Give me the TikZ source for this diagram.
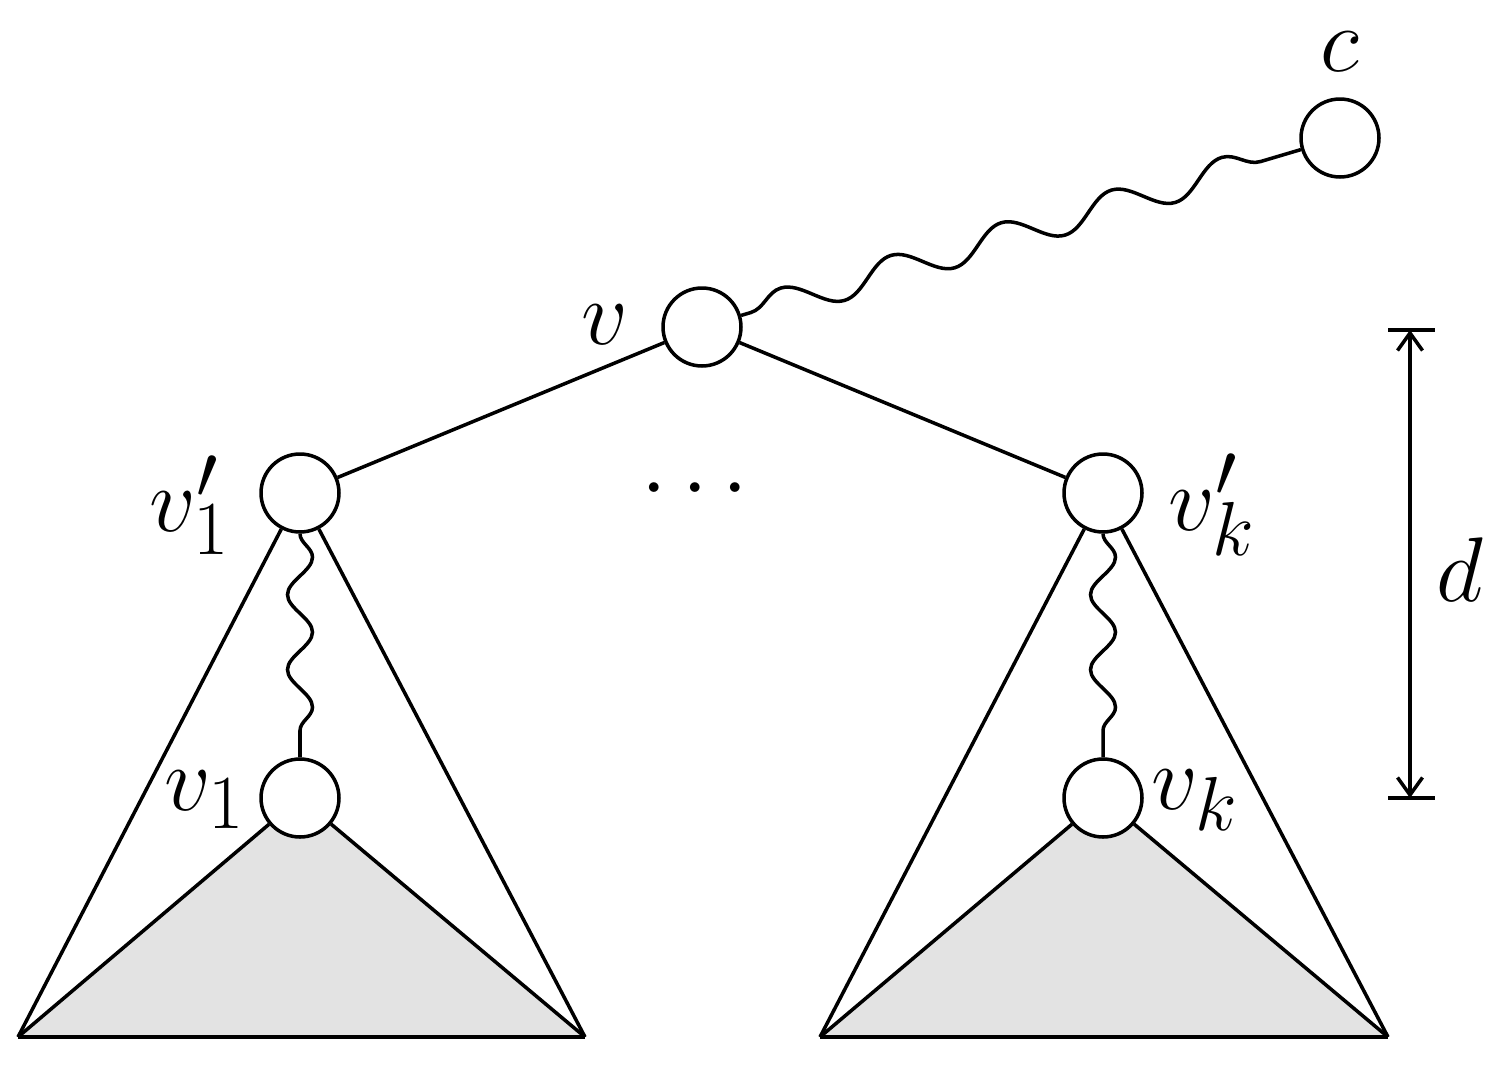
\documentclass[tikz,border=0pt]{standalone}
\usetikzlibrary{decorations.pathmorphing,arrows.meta}
\begin{document}
\begin{tikzpicture}[x=0.02cm,y=-0.02cm,line width=2pt,
  vert/.style={circle,draw,fill=white,minimum size=1.56cm,inner sep=0pt},
  lbl/.style={font=\Huge,scale=2.1},
  wavy/.style={decorate,decoration={snake,segment length=2.3cm,amplitude=0.3cm,pre length=0.2cm,post length=0.1cm}},
  wavyv/.style={decorate,decoration={snake,segment length=1.5cm,amplitude=0.25cm,post length=0.1cm}}]
\useasboundingbox (0,0) rectangle (1501,1065);
\coordinate (l1) at (18,1037); \coordinate (l2) at (585,1037);
\coordinate (r1) at (820,1037); \coordinate (r2) at (1388,1037);
\fill[gray!22] (300,798) -- (l1) -- (l2) -- cycle;
\fill[gray!22] (1103,798) -- (r1) -- (r2) -- cycle;
\node[vert] (c) at (1340,138) {};
\node[vert] (v) at (702,327) {};
\node[vert] (a1) at (300,493) {};
\node[vert] (ak) at (1103,493) {};
\node[vert] (b1) at (300,798) {};
\node[vert] (bk) at (1103,798) {};
\node[lbl] (lc) at (1340,52) {$c$};
\node[lbl] (lv) at (605,325) {$v$};
\node[lbl] (la1) at (190,505) {$v_1'$};
\node[lbl] (lak) at (1212,505) {$v_k'$};
\node[lbl] (lb1) at (205,800) {$v_1$};
\node[lbl] (lbk) at (1195,800) {$v_k$};
\node[lbl] (dots) at (695,490) {$\cdots$};
\node[lbl] (ld) at (1460,570) {$d$};
\draw[wavy] (v) -- (c);
\draw (v) -- (a1); \draw (v) -- (ak);
\draw[wavyv] (a1) -- (b1);
\draw[wavyv] (ak) -- (bk);
\draw (a1) -- (l1); \draw (a1) -- (l2); \draw (l1) -- (l2);
\draw (ak) -- (r1); \draw (ak) -- (r2); \draw (r1) -- (r2);
\draw (b1) -- (l1); \draw (b1) -- (l2);
\draw (bk) -- (r1); \draw (bk) -- (r2);
\coordinate (t1) at (1410,330); \coordinate (t2) at (1410,798);
\draw (1388,330) -- (1435,330); \draw (1388,798) -- (1435,798);
\draw[{Straight Barb[length=0.35cm,width=0.5cm]}-{Straight Barb[length=0.35cm,width=0.5cm]}] (t1) -- (t2);
\end{tikzpicture}
\end{document}
